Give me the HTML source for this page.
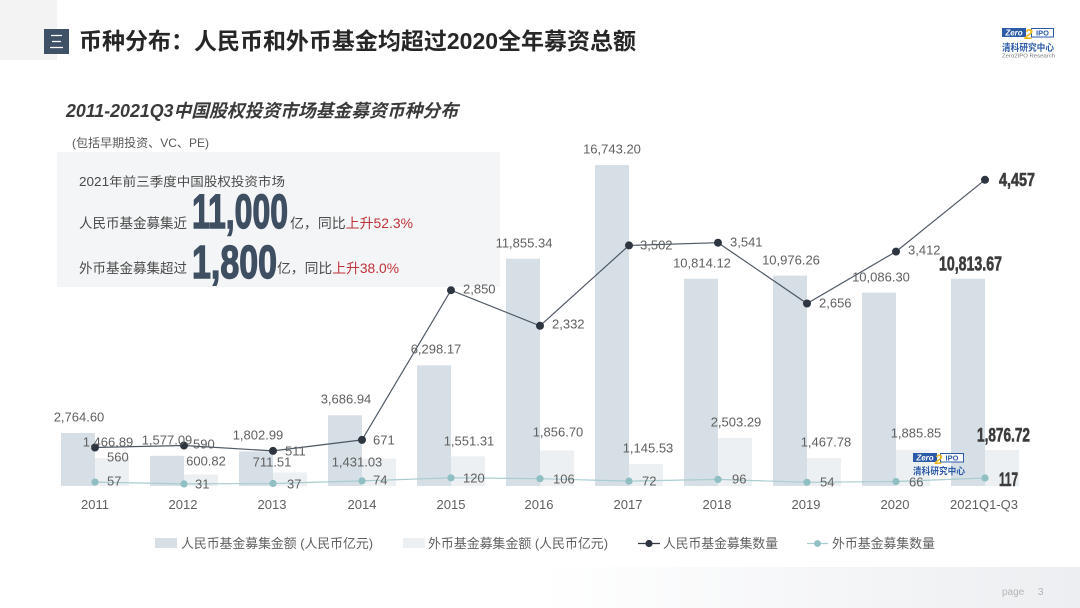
<!DOCTYPE html>
<html><head><meta charset="utf-8"><style>
html,body{margin:0;padding:0;background:#fff;}
svg{display:block;}
text{font-family:"Liberation Sans","Noto Sans CJK SC",sans-serif;}
.lb{font-size:13px;fill:#606060;}
.bd{font-family:"Liberation Sans Narrow","Liberation Sans",sans-serif;font-weight:bold;fill:#3c3c3c;stroke:#3c3c3c;stroke-width:0.6;}
.ax{font-size:13px;fill:#606060;text-anchor:middle;}
</style></head><body>
<svg width="1080" height="608" viewBox="0 0 1080 608" xmlns="http://www.w3.org/2000/svg">
<defs>
<linearGradient id="fg" x1="0" y1="0" x2="1" y2="0">
<stop offset="0" stop-color="#ffffff"/><stop offset="0.5" stop-color="#ffffff"/><stop offset="1" stop-color="#eceef1"/>
</linearGradient>
</defs>
<rect x="0" y="0" width="57" height="60" fill="#f3f3f3"/>
<rect x="0" y="567" width="1080" height="41" fill="url(#fg)"/>
<text x="1002" y="595" font-size="10" fill="#b4b4b4">page</text>
<text x="1038" y="595" font-size="10" fill="#b4b4b4">3</text>

<!-- header -->
<rect x="44" y="29" width="25" height="25" fill="#3e5166"/>
<g stroke="#ffffff" stroke-width="1.3"><line x1="51" y1="35.5" x2="62" y2="35.5"/><line x1="52" y1="41.5" x2="61" y2="41.5"/><line x1="50" y1="47.5" x2="63" y2="47.5"/></g>
<text x="79" y="49" font-size="23" font-weight="bold" fill="#262626" textLength="557" lengthAdjust="spacingAndGlyphs">币种分布：人民币和外币基金均超过2020全年募资总额</text>

<!-- logo -->
<rect x="1002" y="28" width="24" height="9" fill="#2b5aa8"/>
<text x="1014" y="35.5" font-size="8" font-weight="bold" font-style="italic" fill="#fff" text-anchor="middle">Zero</text>
<rect x="1031.5" y="28.5" width="22" height="8.5" fill="#fff" stroke="#2b5aa8" stroke-width="1"/>
<text x="1042.5" y="35.5" font-size="7.5" font-weight="bold" fill="#2b5aa8" text-anchor="middle">IPO</text>
<text x="1028.5" y="39" font-size="15" font-weight="bold" font-style="italic" fill="#e8b820" text-anchor="middle">2</text>
<text x="1002" y="51" font-size="9.5" font-weight="bold" fill="#2b5aa8" textLength="52" lengthAdjust="spacingAndGlyphs">清科研究中心</text>
<text x="1002" y="57.5" font-size="5.5" fill="#777" textLength="53" lengthAdjust="spacingAndGlyphs">Zero2IPO Research</text>

<!-- subtitle -->
<text x="66" y="117" font-size="18" font-weight="bold" font-style="italic" fill="#3a3a3a" textLength="392" lengthAdjust="spacingAndGlyphs">2011-2021Q3中国股权投资市场基金募资币种分布</text>
<text x="72" y="147" font-size="12" fill="#595959" textLength="137" lengthAdjust="spacingAndGlyphs">(包括早期投资、VC、PE)</text>

<!-- info box -->
<rect x="57" y="152" width="443" height="135" fill="#f4f5f7"/>
<text x="79" y="186" font-size="12.5" fill="#4a4a4a" textLength="206" lengthAdjust="spacingAndGlyphs">2021年前三季度中国股权投资市场</text>
<text x="79" y="228" font-size="13.5" fill="#4a4a4a" textLength="108" lengthAdjust="spacingAndGlyphs">人民币基金募集近</text>
<text x="192" y="228" class="bd" font-size="48" style="fill:#3f4f62;stroke:#3f4f62;stroke-width:1.4" textLength="96" lengthAdjust="spacingAndGlyphs">11,000</text>
<text x="290" y="228" font-size="13.5" fill="#4a4a4a" textLength="123" lengthAdjust="spacingAndGlyphs">亿，同比<tspan fill="#c0323a">上升52.3%</tspan></text>
<text x="79" y="273" font-size="13.5" fill="#4a4a4a" textLength="108" lengthAdjust="spacingAndGlyphs">外币基金募集超过</text>
<text x="192" y="278" class="bd" font-size="46" style="fill:#3f4f62;stroke:#3f4f62;stroke-width:1.4" textLength="85" lengthAdjust="spacingAndGlyphs">1,800</text>
<text x="277" y="273" font-size="13.5" fill="#4a4a4a" textLength="122" lengthAdjust="spacingAndGlyphs">亿，同比<tspan fill="#c0323a">上升38.0%</tspan></text>

<!-- RMB bars -->
<g fill="#d5dfe5">
<rect x="61" y="433" width="34" height="53"/>
<rect x="150" y="455.8" width="34" height="30.2"/>
<rect x="239" y="451.4" width="34" height="34.6"/>
<rect x="328" y="415.3" width="34" height="70.7"/>
<rect x="417" y="365.3" width="34" height="120.7"/>
<rect x="506" y="258.7" width="34" height="227.3"/>
<rect x="595" y="165" width="34" height="321"/>
<rect x="684" y="278.7" width="34" height="207.3"/>
<rect x="773" y="275.6" width="34" height="210.4"/>
<rect x="862" y="292.6" width="34" height="193.4"/>
<rect x="951" y="278.7" width="34" height="207.3"/>
</g>
<!-- Foreign bars -->
<g fill="#edf0f2">
<rect x="95" y="457.9" width="34" height="28.1"/>
<rect x="184" y="474.5" width="34" height="11.5"/>
<rect x="273" y="472.4" width="34" height="13.6"/>
<rect x="362" y="458.6" width="34" height="27.4"/>
<rect x="451" y="456.3" width="34" height="29.7"/>
<rect x="540" y="450.4" width="34" height="35.6"/>
<rect x="629" y="464" width="34" height="22"/>
<rect x="718" y="438" width="34" height="48"/>
<rect x="807" y="457.9" width="34" height="28.1"/>
<rect x="896" y="449.8" width="34" height="36.2"/>
<rect x="985" y="450" width="34" height="36"/>
</g>

<!-- watermark logo in chart -->
<rect x="913" y="453" width="24" height="9" fill="#2b5aa8"/>
<text x="925" y="460.5" font-size="8" font-weight="bold" font-style="italic" fill="#fff" text-anchor="middle">Zero</text>
<rect x="940.5" y="453.5" width="23" height="8.5" fill="#fff" stroke="#2b5aa8" stroke-width="1"/>
<text x="952" y="460.5" font-size="7.5" font-weight="bold" fill="#2b5aa8" text-anchor="middle">IPO</text>
<text x="938.5" y="464" font-size="14" font-weight="bold" font-style="italic" fill="#e8b820" text-anchor="middle">2</text>
<text x="913" y="474.5" font-size="9.5" font-weight="bold" fill="#2b5aa8" textLength="52" lengthAdjust="spacingAndGlyphs">清科研究中心</text>

<!-- lines -->
<polyline fill="none" stroke="#a9cdd1" stroke-width="1.2" points="95,482.1 184,483.9 273,483.5 362,480.9 451,477.8 540,478.7 629,481.1 718,479.4 807,482.3 896,481.5 985,478"/>
<g fill="#8fbec3">
<circle cx="95" cy="482.1" r="3.6"/><circle cx="184" cy="483.9" r="3.6"/><circle cx="273" cy="483.5" r="3.6"/><circle cx="362" cy="480.9" r="3.6"/><circle cx="451" cy="477.8" r="3.6"/><circle cx="540" cy="478.7" r="3.6"/><circle cx="629" cy="481.1" r="3.6"/><circle cx="718" cy="479.4" r="3.6"/><circle cx="807" cy="482.3" r="3.6"/><circle cx="896" cy="481.5" r="3.6"/><circle cx="985" cy="478" r="3.6"/>
</g>
<polyline fill="none" stroke="#4f5965" stroke-width="1.2" points="95,447.5 184,445.5 273,450.9 362,439.9 451,290.2 540,325.8 629,245.4 718,242.7 807,303.5 896,251.6 985,179.8"/>
<g fill="#2d3540">
<circle cx="95" cy="447.5" r="4"/><circle cx="184" cy="445.5" r="4"/><circle cx="273" cy="450.9" r="4"/><circle cx="362" cy="439.9" r="4"/><circle cx="451" cy="290.2" r="4"/><circle cx="540" cy="325.8" r="4"/><circle cx="629" cy="245.4" r="4"/><circle cx="718" cy="242.7" r="4"/><circle cx="807" cy="303.5" r="4"/><circle cx="896" cy="251.6" r="4"/><circle cx="985" cy="179.8" r="4"/>
</g>

<!-- RMB amount labels -->
<g class="lb" text-anchor="middle">
<text x="79" y="421.5">2,764.60</text>
<text x="167" y="444.5">1,577.09</text>
<text x="258" y="439.5">1,802.99</text>
<text x="346" y="403.5">3,686.94</text>
<text x="436" y="353.5">6,298.17</text>
<text x="524" y="247.5">11,855.34</text>
<text x="612" y="153.5">16,743.20</text>
<text x="702" y="267.5">10,814.12</text>
<text x="791" y="264.5">10,976.26</text>
<text x="881" y="281.5">10,086.30</text>
</g>
<!-- Foreign amount labels -->
<g class="lb" text-anchor="middle">
<text x="108" y="446.5">1,466.89</text>
<text x="206" y="465.5">600.82</text>
<text x="272" y="466.5">711.51</text>
<text x="357" y="466.5">1,431.03</text>
<text x="469" y="445.5">1,551.31</text>
<text x="558" y="436.5">1,856.70</text>
<text x="648" y="452.5">1,145.53</text>
<text x="736" y="426.5">2,503.29</text>
<text x="826" y="446.5">1,467.78</text>
<text x="916" y="437.5">1,885.85</text>
</g>
<!-- RMB count labels -->
<g class="lb">
<text x="107" y="461.5">560</text>
<text x="193" y="448.5">590</text>
<text x="285" y="455.5">511</text>
<text x="373" y="444.5">671</text>
<text x="463" y="293.5">2,850</text>
<text x="552" y="328.5">2,332</text>
<text x="640" y="249.5">3,502</text>
<text x="730" y="246.5">3,541</text>
<text x="819" y="307.5">2,656</text>
<text x="908" y="254.5">3,412</text>
</g>
<!-- Foreign count labels -->
<g class="lb">
<text x="107" y="485.5">57</text>
<text x="195" y="488.5">31</text>
<text x="287" y="488.5">37</text>
<text x="373" y="484.5">74</text>
<text x="463" y="482.5">120</text>
<text x="553" y="483.5">106</text>
<text x="642" y="485.5">72</text>
<text x="732" y="483.5">96</text>
<text x="820" y="486.5">54</text>
<text x="909" y="486.5">66</text>
</g>
<!-- bold 2021 labels -->
<text x="939" y="270.5" class="bd" font-size="20" textLength="63" lengthAdjust="spacingAndGlyphs">10,813.67</text>
<text x="999" y="186" class="bd" font-size="18" textLength="36" lengthAdjust="spacingAndGlyphs">4,457</text>
<text x="977" y="441.5" class="bd" font-size="19" textLength="53" lengthAdjust="spacingAndGlyphs">1,876.72</text>
<text x="999" y="486" class="bd" font-size="19" textLength="19" lengthAdjust="spacingAndGlyphs">117</text>

<!-- x axis labels -->
<g class="ax">
<text x="95" y="509">2011</text>
<text x="183" y="509">2012</text>
<text x="272" y="509">2013</text>
<text x="362" y="509">2014</text>
<text x="451" y="509">2015</text>
<text x="539" y="509">2016</text>
<text x="628" y="509">2017</text>
<text x="717" y="509">2018</text>
<text x="806" y="509">2019</text>
<text x="895" y="509">2020</text>
<text x="984" y="509">2021Q1-Q3</text>
</g>

<!-- legend -->
<rect x="155" y="538" width="22" height="10" fill="#d5dfe5"/>
<text x="181" y="548" font-size="13" fill="#606060" textLength="192" lengthAdjust="spacingAndGlyphs">人民币基金募集金额 (人民币亿元)</text>
<rect x="403" y="538" width="22" height="10" fill="#edf0f2"/>
<text x="428" y="548" font-size="13" fill="#606060" textLength="180" lengthAdjust="spacingAndGlyphs">外币基金募集金额 (人民币亿元)</text>
<line x1="638" y1="543.5" x2="660" y2="543.5" stroke="#333b45" stroke-width="1.3"/>
<circle cx="649" cy="543.5" r="3.6" fill="#2d3540"/>
<text x="663" y="548" font-size="13" fill="#606060" textLength="115" lengthAdjust="spacingAndGlyphs">人民币基金募集数量</text>
<line x1="807" y1="543.5" x2="828" y2="543.5" stroke="#a9cdd1" stroke-width="1.3"/>
<circle cx="817.5" cy="543.5" r="3.4" fill="#8fbec3"/>
<text x="832" y="548" font-size="13" fill="#606060" textLength="103" lengthAdjust="spacingAndGlyphs">外币基金募集数量</text>
</svg>
</body></html>
